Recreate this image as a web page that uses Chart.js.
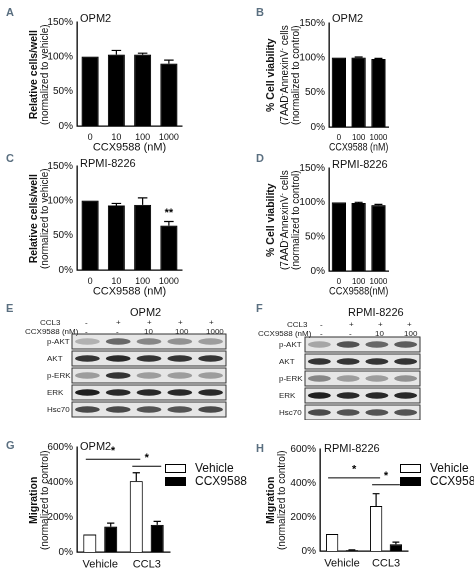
<!DOCTYPE html>
<html><head><meta charset="utf-8">
<script src="https://cdn.jsdelivr.net/npm/chart.js@4"></script>
<style>
body{margin:0;background:#fff;font-family:"Liberation Sans",Arial,sans-serif;}
#wrap{position:relative;width:474px;height:571px;overflow:hidden;background:#fff}
canvas.c{position:absolute}
.lt{position:absolute;font-family:"Liberation Sans Narrow","Liberation Sans";font-weight:bold;color:#5a6f80;font-size:11px}
.cl{position:absolute;font-size:11px;color:#111}
.yt{position:absolute;transform-origin:0 0;transform:rotate(-90deg);font-size:10px;line-height:11px;text-align:center;white-space:nowrap;color:#111}
.yt b{font-size:10.5px}
.leg{position:absolute;font-size:12px;color:#111;white-space:nowrap}
.leg span{display:inline-block;width:19px;height:7px;border:1px solid #000;vertical-align:middle;margin-right:9px}
.bl{position:absolute;font-size:8px;color:#222;text-align:right}
</style></head><body><div id="wrap">
<canvas class="c" id="cA"></canvas><canvas class="c" id="cB"></canvas>
<canvas class="c" id="cC"></canvas><canvas class="c" id="cD"></canvas>
<canvas class="c" id="cG"></canvas><canvas class="c" id="cH"></canvas>
<canvas class="c" id="blots" width="474" height="130" style="left:0;top:290px"></canvas>
</div>
<script>
// ---- data ----
const doseA = ['0','10','100','1000'];
const doseB = ['0','100','1000'];
const valA = [100,103,103,90], errA = [0,6,2,5];
const valB = [100,100,98], errB = [0,1,1];
const valC = [100,93,94,64], errC = [0,3,10,6];
const valD = [100,99,96], errD = [0,1,1];
const migCats = ['Vehicle','CCL3'];
const gVeh = [100,405], gVehErr = [0,48], gCcx = [145,155], gCcxErr = [20,20];
const hVeh = [100,265], hVehErr = [0,72], hCcx = [5,40], hCcxErr = [2,12];

const wrap = document.getElementById('wrap');
function add(cls, html, css){const d=document.createElement('div');d.className=cls;d.innerHTML=html;Object.assign(d.style,css);wrap.appendChild(d);return d;}

const errPlugin = {id:'err', afterDatasetsDraw(chart){
  const ctx=chart.ctx, y=chart.scales.y;
  chart.data.datasets.forEach((ds,di)=>{
    if(!ds.err) return;
    const meta=chart.getDatasetMeta(di);
    meta.data.forEach((b,i)=>{
      const e=ds.err[i]; if(!e) return;
      const yt=y.getPixelForValue(ds.data[i]+e), yb=y.getPixelForValue(ds.data[i]);
      const w=b.width*0.28;
      ctx.save();ctx.strokeStyle='#000';ctx.lineWidth=1.2;ctx.beginPath();
      ctx.moveTo(b.x,yb);ctx.lineTo(b.x,yt);ctx.moveTo(b.x-w,yt);ctx.lineTo(b.x+w,yt);ctx.stroke();ctx.restore();
    });
  });
  const sig=chart.options.plugins.sig||[];
  sig.forEach(s=>{
    const x1=chart.getDatasetMeta(s.d1).data[s.i1].x, x2=chart.getDatasetMeta(s.d2).data[s.i2].x;
    const yy=y.getPixelForValue(s.y);
    ctx.save();ctx.strokeStyle='#000';ctx.fillStyle='#000';ctx.lineWidth=1;
    if(x1!==x2){ctx.beginPath();ctx.moveTo(x1-4,yy);ctx.lineTo(x2+4,yy);ctx.stroke();}
    ctx.font='bold 11px "Liberation Sans"';ctx.textAlign='center';ctx.textBaseline='bottom';
    ctx.fillText(s.t,(x1+x2)/2,yy-(x1!==x2?3:0));ctx.restore();
  });
}};

function make(id, left, top, w, h, axisX, topY, zeroY, labels, datasets, max, step, tickFont, xTitle, barPct, sig){
  const cv=document.getElementById(id);
  cv.style.left=left+'px';cv.style.top=top+'px';cv.style.width=w+'px';cv.style.height=h+'px';
  const xH = h-(zeroY-top);
  return new Chart(cv,{type:'bar',data:{labels,datasets},
    options:{responsive:false,devicePixelRatio:2,animation:false,
      layout:{padding:{top:topY-top,right:4,left:0,bottom:0}},
      plugins:{legend:{display:false},tooltip:{enabled:false},sig:sig||[]},
      datasets:{bar:{barPercentage:barPct,categoryPercentage:0.9}},
      scales:{
        x:{grid:{display:false,drawTicks:false},border:{color:'#000',width:1.3},
           ticks:{color:'#111',font:{size:tickFont,family:'Liberation Sans'},padding:6,maxRotation:0,autoSkip:false},
           title:{display:!!xTitle,text:xTitle,color:'#111',font:{size:11,family:'Liberation Sans'},padding:{top:0}},
           afterFit(s){s.height=xH;}},
        y:{min:0,max:max,grid:{display:false,tickLength:3},border:{color:'#000',width:1.3},
           ticks:{stepSize:step,color:'#111',font:{size:10,family:'Liberation Sans'},padding:1,callback:v=>v+'%'},
           afterFit(s){s.width=axisX-left;}}
      }}, plugins:[errPlugin]});
}
function ds(v,e,bg){return {data:v,err:e,backgroundColor:bg||'#000',borderColor:'#000',borderWidth:1};}

make('cA',0,8,186,150,77,22,126,doseA,[ds(valA,errA)],150,50,9,'CCX9588 (nM)',0.72);
make('cB',240,8,154,150,329,23,127,doseB,[ds(valB,errB)],150,50,8,'CCX9588 (nM)',0.8);
make('cC',0,152,186,150,77,166,270,doseA,[ds(valC,errC)],150,50,9,'CCX9588 (nM)',0.72,[{d1:0,i1:3,d2:0,i2:3,y:74,t:'**'}]);
make('cD',240,152,154,150,329,168,271,doseB,[ds(valD,errD)],150,50,8,'CCX9588(nM)',0.8);
make('cG',0,437,174,134,77,447,552,migCats,[ds(gVeh,gVehErr,'#fff'),ds(gCcx,gCcxErr,'#000')],600,200,11,'',0.62,
  [{d1:0,i1:0,d2:0,i2:1,y:530,t:'*'},{d1:0,i1:1,d2:1,i2:1,y:490,t:'*'}]);
make('cH',240,439,172,132,320,449,551,migCats,[ds(hVeh,hVehErr,'#fff'),ds(hCcx,hCcxErr,'#000')],600,200,11,'',0.62,
  [{d1:0,i1:0,d2:0,i2:1,y:430,t:'*'},{d1:0,i1:1,d2:1,i2:1,y:390,t:'*'}]);

// labels
[['A',6,6],['B',256,6],['C',6,152],['D',256,152],['E',6,302],['F',256,302],['G',6,439],['H',256,442]].forEach(a=>add('lt',a[0],{left:a[1]+'px',top:a[2]+'px'}));
[['OPM2',80,12],['OPM2',332,12],['RPMI-8226',80,157],['RPMI-8226',332,158],['OPM2',80,440],['RPMI-8226',324,442]].forEach(a=>add('cl',a[0],{left:a[1]+'px',top:a[2]+'px'}));
function yt(html,x,yc){const d=add('yt',html,{});const w=d.offsetWidth;d.style.left=x+'px';d.style.top=(yc+w/2)+'px';}
yt('<b>Relative cells/well</b><br>(normalized to vehicle)',28,74);
yt('<b>Relative cells/well</b><br>(normalized to vehicle)',28,218);
yt('<b>% Cell viability</b><br>(7AAD<sup style="font-size:7px">-</sup>AnnexinV<sup style="font-size:7px">-</sup> cells<br>(normalized to control)',265,75);
yt('<b>% Cell viability</b><br>(7AAD<sup style="font-size:7px">-</sup>AnnexinV<sup style="font-size:7px">-</sup> cells<br>(normalized to control)',265,220);
yt('<b>Migration</b><br>(normalized to control)',28,500);
yt('<b>Migration</b><br>(normalized to control)',265,500);
add('leg','<span style="background:#fff"></span>Vehicle',{left:'165px',top:'461px'});
add('leg','<span style="background:#000"></span>CCX9588',{left:'165px',top:'474px'});
add('leg','<span style="background:#fff"></span>Vehicle',{left:'400px',top:'461px'});
add('leg','<span style="background:#000"></span>CCX9588',{left:'400px',top:'474px'});

// western blot headers / labels (decorative)
add('cl','OPM2',{left:'130px',top:'306px'});
add('cl','RPMI-8226',{left:'348px',top:'306px'});
const bl=(t,x,y,a)=>add('bl',t,{left:x+'px',top:y+'px',textAlign:a||'right'});
bl('CCL3',40,318);bl('CCX9588 (nM)',25,327);
['-','+','+','+','+'].forEach((t,i)=>bl(t,85+i*31,318));['-','-','10','100','1000'].forEach((t,i)=>bl(t,85+i*31-(t.length>1?3:0),327));
bl('CCL3',287,320);bl('CCX9588 (nM)',258,329);
['-','+','+','+'].forEach((t,i)=>bl(t,320+i*29,320));['-','-','10','100'].forEach((t,i)=>bl(t,320+i*29-(t.length>1?3:0),329));
const names=['p-AKT','AKT','p-ERK','ERK','Hsc70'];
names.forEach((n,i)=>{bl(n,47,337+i*17);bl(n,279,340+i*17);});
const bc=document.getElementById('blots').getContext('2d');
function strip(x,y,w,h,n,inten){
  bc.fillStyle='#e6e6e6';bc.fillRect(x,y,w,h);bc.strokeStyle='#333';bc.lineWidth=1;bc.strokeRect(x,y,w,h);
  for(let i=0;i<n;i++){const cx=x+w*(i+0.5)/n, a=inten[i];
    bc.fillStyle='rgba(20,20,20,'+a+')';bc.beginPath();bc.ellipse(cx,y+h*0.5,w/n*0.4,h*0.22,0,0,Math.PI*2);bc.fill();}
}
const E=[[0.25,0.6,0.45,0.4,0.35],[0.85,0.9,0.85,0.85,0.85],[0.35,0.85,0.35,0.35,0.35],[0.95,0.9,0.9,0.9,0.9],[0.75,0.75,0.7,0.7,0.75]];
const F=[[0.3,0.7,0.6,0.65],[0.85,0.85,0.85,0.85],[0.45,0.35,0.35,0.4],[0.95,0.9,0.9,0.9],[0.75,0.7,0.7,0.7]];
E.forEach((r,i)=>strip(72,44+i*17,154,15,5,r));
F.forEach((r,i)=>strip(305,47+i*17,115,15,4,r));
</script></body></html>
